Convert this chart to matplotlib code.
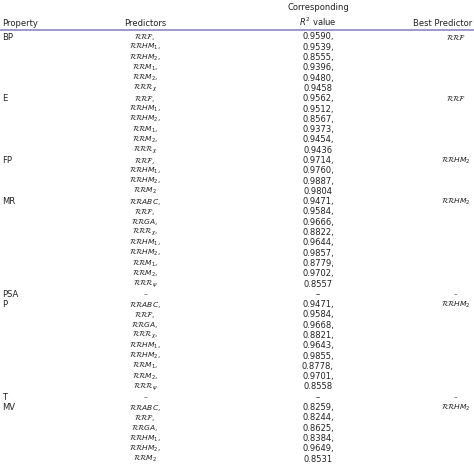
import matplotlib.pyplot as plt

# table content, one entry per group
properties = ["BP", "E", "FP", "MR", "PSA", "P", "T", "MV"]
predictors = [
    ["RRF", "RRHM_1", "RRHM_2", "RRM_1", "RRM_2", "RRR_{\\chi}"],
    ["RRF", "RRHM_1", "RRHM_2", "RRM_1", "RRM_2", "RRR_{\\chi}"],
    ["RRF", "RRHM_1", "RRHM_2", "RRM_2"],
    ["RRABC", "RRF", "RRGA", "RRR_{\\chi}", "RRHM_1", "RRHM_2", "RRM_1", "RRM_2", "RRR_{\\psi}"],
    ["-"],
    ["RRABC", "RRF", "RRGA", "RRR_{\\chi}", "RRHM_1", "RRHM_2", "RRM_1", "RRM_2", "RRR_{\\psi}"],
    ["-"],
    ["RRABC", "RRF", "RRGA", "RRHM_1", "RRHM_2", "RRM_2"],
]
values = [
    ["0.9590", "0.9539", "0.8555", "0.9396", "0.9480", "0.9458"],
    ["0.9562", "0.9512", "0.8567", "0.9373", "0.9454", "0.9436"],
    ["0.9714", "0.9760", "0.9887", "0.9804"],
    ["0.9471", "0.9584", "0.9666", "0.8822", "0.9644", "0.9857", "0.8779", "0.9702", "0.8557"],
    ["-"],
    ["0.9471", "0.9584", "0.9668", "0.8821", "0.9643", "0.9855", "0.8778", "0.9701", "0.8558"],
    ["-"],
    ["0.8259", "0.8244", "0.8625", "0.8384", "0.9649", "0.8531"],
]
best = ["RRF", "RRF", "RRHM_2", "RRHM_2", "-", "RRHM_2", "-", "RRHM_2"]


def cal(name):
    if name == "-":
        return "–"
    letters = name.split("_")[0]
    sub = name[len(letters):]
    rr, rest = letters[:2], letters[2:]
    if rest in ("F", "R"):
        return r"$\mathcal{" + rr + rest + "}" + sub + "$"
    return r"$\mathcal{" + rr + "}" + rest + sub + "$"


fig = plt.figure(figsize=(4.74, 4.65), dpi=100)
W, H = 474, 465
fs = 6
col = "#222222"

def put(x, y, s, ha="center", size=fs):
    fig.text(x / W, 1 - y / H, s, ha=ha, va="center", fontsize=size, color=col)

# header
put(2, 23, "Property", ha="left")
put(145, 23, "Predictors")
put(318, 7, "Corresponding")
put(318, 22, r"$R^2$ value")
put(472, 23, "Best Predictor", ha="right")
fig.add_artist(plt.Line2D([0, 1], [1 - 30 / H, 1 - 30 / H], color="#8c89c4", lw=1.2))

y = 37
step = (459 - 37) / 41
for prop, preds, vals, b in zip(properties, predictors, values, best):
    put(2, y, prop, ha="left")
    put(456, y, cal(b), size=5.4)
    for i, (p, v) in enumerate(zip(preds, vals)):
        last = i == len(preds) - 1
        ptxt = cal(p)
        if p != "-" and not last:
            ptxt = ptxt + ","
        vtxt = v if (last or v == "-") else v + ","
        put(145, y, ptxt, size=5.4)
        put(318, y, "–" if v == "-" else vtxt)
        y += step

fig.savefig("out.png", dpi=100)
